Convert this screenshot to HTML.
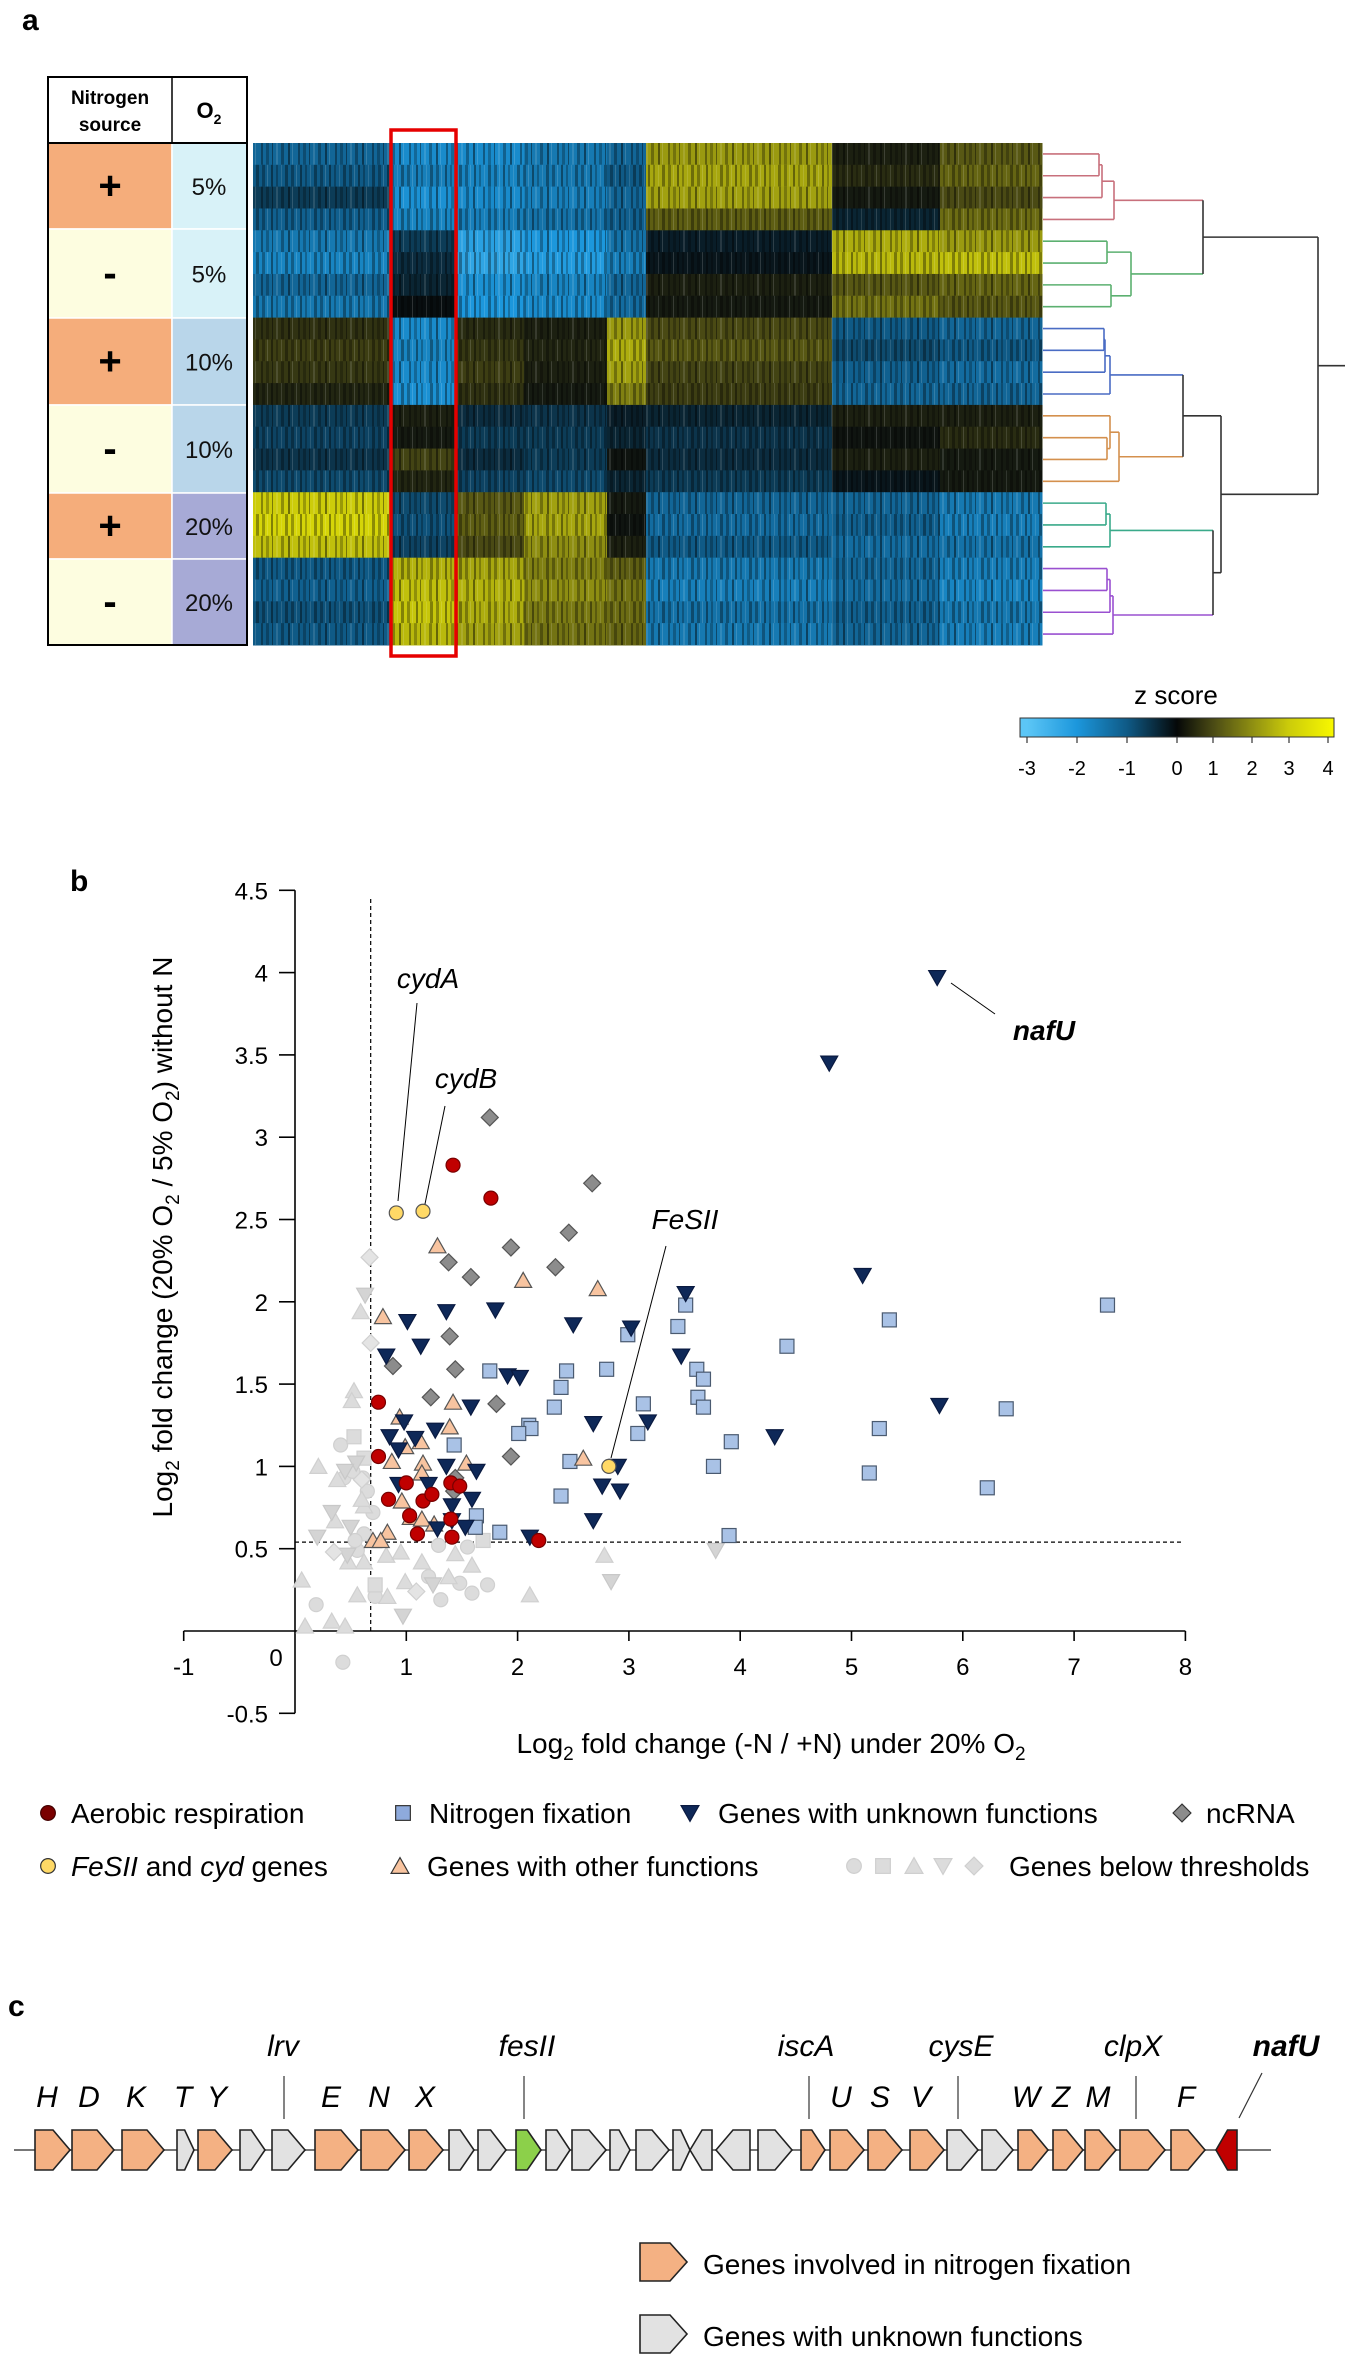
<!DOCTYPE html>
<html><head><meta charset="utf-8"><style>
html,body{margin:0;padding:0;background:#fff;}
svg{display:block;font-family:"Liberation Sans",Arial,sans-serif;}
</style></head><body>
<svg id="fig" width="1352" height="2362" viewBox="0 0 1352 2362" xmlns="http://www.w3.org/2000/svg">
<defs>
<linearGradient id="zgrad" x1="1020" x2="1334" y1="0" y2="0" gradientUnits="userSpaceOnUse">
<stop offset="0" stop-color="#5cc6f6"/><stop offset="0.022" stop-color="#5cc6f6"/>
<stop offset="0.181" stop-color="#1c97dc"/><stop offset="0.341" stop-color="#0f5a86"/>
<stop offset="0.500" stop-color="#050808"/><stop offset="0.615" stop-color="#4a4a14"/>
<stop offset="0.739" stop-color="#8e8e12"/><stop offset="0.857" stop-color="#cccc0a"/>
<stop offset="1" stop-color="#f8f800"/></linearGradient>
<pattern id="tex1" width="37" height="22" patternUnits="userSpaceOnUse">
<rect x="2" y="0" width="2" height="22" fill="#000" opacity="0.35"/><rect x="7" y="0" width="3" height="22" fill="#000" opacity="0.25"/>
<rect x="13" y="0" width="1" height="22" fill="#000" opacity="0.4"/><rect x="17" y="0" width="2" height="22" fill="#fff" opacity="0.12"/>
<rect x="22" y="0" width="3" height="22" fill="#000" opacity="0.3"/><rect x="29" y="0" width="2" height="22" fill="#000" opacity="0.45"/>
<rect x="33" y="0" width="1" height="22" fill="#fff" opacity="0.15"/></pattern>
<pattern id="tex2" width="29" height="22" patternUnits="userSpaceOnUse">
<rect x="1" y="0" width="3" height="22" fill="#000" opacity="0.3"/><rect x="6" y="0" width="1" height="22" fill="#fff" opacity="0.15"/>
<rect x="10" y="0" width="2" height="22" fill="#000" opacity="0.4"/><rect x="15" y="0" width="2" height="22" fill="#000" opacity="0.25"/>
<rect x="20" y="0" width="1" height="22" fill="#fff" opacity="0.12"/><rect x="24" y="0" width="3" height="22" fill="#000" opacity="0.35"/></pattern>
</defs>
<g id="panelA"></g>
<g id="panelB"></g>
<g id="panelC"></g>
</svg>
<script>
// ---------- Panel A data ----------
const hmGroups=["+ 5%","- 5%","+ 10%","- 10%","+ 20%","- 20%"];
const hmRowGroup=[0,0,0,0,1,1,1,1,2,2,2,2,3,3,3,3,4,4,4,5,5,5,5];
const hmBlockEdges=[253,390,457,524,607,646,832,940,1042];
const hmRow0=[-1.2,-1.8,-1.8,-1.5,-1.2,2.2,0.3,1.2];
const hmRow1=[-1.0,-1.6,-1.7,-1.5,-1.0,2.4,0.5,1.4];
const hmRow2=[-0.6,-1.9,-1.8,-1.6,-1.2,2.3,0.2,1.0];
const hmRow3=[-1.1,-1.7,-1.6,-1.4,-1.1,1.3,-0.3,1.5];
const hmRow4=[-1.5,-0.6,-2.2,-2.0,-1.4,-0.2,2.5,2.2];
const hmRow5=[-1.7,-0.4,-2.3,-2.1,-1.6,-0.1,2.7,2.8];
const hmRow6=[-1.2,-0.3,-1.9,-1.7,-1.2,0.3,1.2,1.4];
const hmRow7=[-1.5,0.0,-2.0,-1.8,-1.3,0.2,1.6,1.2];
const hmRow8=[0.6,-1.8,0.5,0.3,2.2,1.0,-1.0,-1.2];
const hmRow9=[0.8,-1.7,0.7,0.4,2.5,1.2,-0.8,-1.0];
const hmRow10=[0.7,-1.8,0.8,0.3,2.3,0.9,-1.1,-1.3];
const hmRow11=[0.4,-1.9,0.6,0.2,1.8,0.8,-1.2,-1.2];
const hmRow12=[-0.6,0.3,-0.4,-0.5,-0.2,-0.3,0.3,0.3];
const hmRow13=[-0.7,0.2,-0.6,-0.6,-0.3,-0.5,0.1,0.5];
const hmRow14=[-0.5,0.9,-0.4,-0.6,0.1,-0.4,0.3,0.2];
const hmRow15=[-0.8,0.4,-0.7,-0.8,-0.3,-0.6,-0.1,0.2];
const hmRow16=[3.0,-0.8,1.2,2.3,0.2,-1.2,-1.2,-1.5];
const hmRow17=[3.2,-0.9,1.3,2.4,0.1,-1.3,-1.1,-1.6];
const hmRow18=[2.8,-0.7,1.0,2.0,0.3,-1.0,-1.3,-1.4];
const hmRow19=[-1.0,2.6,2.4,1.8,1.3,-1.5,-1.2,-1.6];
const hmRow20=[-1.1,2.8,2.6,2.0,1.6,-1.6,-1.3,-1.7];
const hmRow21=[-0.9,2.9,2.5,1.7,1.5,-1.4,-1.1,-1.5];
const hmRow22=[-1.0,2.7,2.3,1.6,1.4,-1.5,-1.2,-1.6];
const hmRows=[hmRow0,hmRow1,hmRow2,hmRow3,hmRow4,hmRow5,hmRow6,hmRow7,hmRow8,hmRow9,hmRow10,hmRow11,hmRow12,hmRow13,hmRow14,hmRow15,hmRow16,hmRow17,hmRow18,hmRow19,hmRow20,hmRow21,hmRow22];
const zTicks=[-3,-2,-1,0,1,2,3,4];
const zTickX=[1027,1077,1127,1177,1213,1252,1289,1328];
// dendrogram merges: [childA, childB, height(px x), color]; leaves 0..22, merges numbered 23+
const dMerges=[
[0,1,1099,"#c8707c"],[23,2,1102,"#c8707c"],[24,3,1114,"#c8707c"],
[4,5,1107,"#5cb070"],[6,7,1111,"#5cb070"],[26,27,1131,"#5cb070"],
[25,28,1203,"#333"],
[8,9,1104,"#4a6cc4"],[30,10,1105,"#4a6cc4"],[31,11,1110,"#4a6cc4"],
[13,14,1107,"#d4904e"],[12,33,1110,"#d4904e"],[34,15,1119,"#d4904e"],
[32,35,1183,"#333"],
[16,17,1106,"#3aaa8a"],[37,18,1110,"#3aaa8a"],
[19,20,1107,"#9a50d0"],[39,21,1110,"#9a50d0"],[40,22,1113,"#9a50d0"],
[38,41,1213,"#333"],[36,42,1221,"#333"],[29,43,1318,"#333"]];
// ---------- Panel B data ----------
const aerX=[1.42,1.76,0.75,0.75,1.0,0.84,1.15,1.23,1.40,1.48,1.03,1.10,1.40,1.41,2.19];
const aerY=[2.83,2.63,1.39,1.06,0.90,0.80,0.79,0.83,0.90,0.88,0.70,0.59,0.68,0.57,0.55];
const cydX=[0.91,1.15,2.82];
const cydY=[2.54,2.55,1.0];
const nfX=[3.51,3.44,2.99,5.34,4.42,7.30,1.75,2.44,2.80,3.61,3.67,2.39,2.33,3.13,3.62,3.67,6.39,2.10,2.12,2.01,3.08,3.92,5.25,1.43,2.47,3.76,5.16,6.22,2.39,1.63,1.62,1.84,3.90];
const nfY=[1.98,1.85,1.80,1.89,1.73,1.98,1.58,1.58,1.59,1.59,1.53,1.48,1.36,1.38,1.42,1.36,1.35,1.25,1.23,1.20,1.20,1.15,1.23,1.13,1.03,1.0,0.96,0.87,0.82,0.70,0.63,0.60,0.58];
const unkX=[5.77,4.80,5.10,3.51,1.36,1.80,1.01,2.50,3.02,1.13,0.82,3.47,1.91,2.02,1.58,5.79,0.98,2.68,3.17,1.26,0.85,1.08,4.31,0.93,1.36,2.90,1.63,0.93,1.20,2.76,2.92,1.59,1.41,2.68,1.28,1.53,2.11,1.41];
const unkY=[3.97,3.45,2.16,2.05,1.94,1.95,1.88,1.86,1.84,1.73,1.67,1.67,1.55,1.54,1.36,1.37,1.27,1.26,1.27,1.22,1.18,1.17,1.18,1.10,1.0,1.0,0.97,0.89,0.89,0.88,0.85,0.80,0.76,0.67,0.62,0.63,0.57,0.67];
const othX=[1.28,2.05,2.72,0.79,1.42,0.94,1.39,1.13,0.99,0.87,1.15,1.54,2.59,1.14,0.96,1.04,1.14,1.25,0.70,0.83,0.77];
const othY=[2.34,2.13,2.08,1.91,1.39,1.30,1.24,1.15,1.12,1.03,1.02,1.02,1.05,0.96,0.79,0.69,0.68,0.65,0.55,0.60,0.55];
const ncX=[1.75,2.67,2.46,1.94,1.38,2.34,1.58,1.39,0.88,1.44,1.22,1.81,1.94,1.44,1.43];
const ncY=[3.12,2.72,2.42,2.33,2.24,2.21,2.15,1.79,1.61,1.59,1.42,1.38,1.06,0.93,0.85];
const bCircX=[0.41,0.43,0.19,1.31,1.59,1.73,0.72,0.56,0.62,0.70,0.61,0.65,0.44,1.20,1.48,1.55,1.29,0.54,0.52];
const bCircY=[1.13,-0.19,0.16,0.19,0.23,0.28,0.21,0.49,0.59,0.72,0.93,0.85,0.93,0.33,0.29,0.51,0.52,0.55,0.97];
const bSqX=[0.53,0.72,1.69,0.62];
const bSqY=[1.18,0.28,0.55,1.05];
const bUpX=[0.59,0.53,0.51,2.78,2.11,0.06,0.09,0.33,0.45,0.83,0.56,0.21,0.36,0.62,0.82,0.95,1.14,0.99,1.38,1.59,1.44,0.62,0.48,0.38,0.60];
const bUpY=[1.94,1.46,1.40,0.46,0.22,0.31,0.03,0.06,0.03,0.21,0.22,1.0,0.67,0.76,0.46,0.48,0.42,0.30,0.33,0.40,0.47,0.42,0.42,0.92,0.80];
const bDnX=[0.63,2.84,3.78,0.97,1.24,0.33,0.50,0.20,0.47,0.55,0.45];
const bDnY=[2.04,0.30,0.49,0.09,0.28,0.72,0.63,0.57,0.46,1.02,0.97];
const bDiaX=[0.67,0.68,1.09,0.35,0.60];
const bDiaY=[2.27,1.75,0.24,0.48,0.92];
const xTicks=[-1,1,2,3,4,5,6,7,8];
const yTicks=[-0.5,0.5,1,1.5,2,2.5,3,3.5,4,4.5];
const threshX=0.68, threshY=0.54;
// ---------- Panel C data ----------
const geneStart=[35,72,122,177,198,240,272,315,361,409,449,478,516,546,572,610,636,673,690,716,758,801,830,868,910,947,982,1018,1053,1085,1120,1171,1216];
const geneEnd=[70,114,164,194,232,265,305,358,405,443,474,506,541,570,606,630,669,690,712,750,792,825,864,902,944,978,1013,1048,1083,1116,1165,1205,1237];
const geneType=["n","n","n","u","n","u","u","n","n","n","u","u","g","u","u","u","u","u","u","u","u","n","n","n","n","u","u","n","n","n","n","n","r"];
const geneDir=[1,1,1,1,1,1,1,1,1,1,1,1,1,1,1,1,1,1,-1,-1,1,1,1,1,1,1,1,1,1,1,1,1,-1];

const NS="http://www.w3.org/2000/svg";
function mk(tag,attrs,parent){const e=document.createElementNS(NS,tag);for(const k in attrs)e.setAttribute(k,attrs[k]);parent.appendChild(e);return e;}
function txt(s,attrs,parent){const e=mk("text",attrs,parent);e.textContent=s;return e;}
const A=document.getElementById("panelA"),B=document.getElementById("panelB"),C=document.getElementById("panelC");

// ===== Panel A =====
let t=txt("a",{x:22,y:30,"font-size":30,"font-weight":"bold"},A);


const zStops=[[-3,[92,198,246]],[-2,[28,151,220]],[-1,[15,90,134]],[0,[8,14,16]],[1,[74,74,20]],[2,[142,142,18]],[3,[204,204,10]],[4,[248,248,0]]];
function zcol(v){v=Math.max(-3,Math.min(4,v));for(let i=0;i<zStops.length-1;i++){const a=zStops[i],b=zStops[i+1];if(v<=b[0]){const f=(v-a[0])/(b[0]-a[0]);const c=a[1].map((x,j)=>Math.round(x+(b[1][j]-x)*f));return "rgb("+c.join(",")+")";}}return "rgb(248,248,0)";}
// table
const rowB=[143,229,318,405,493,559,645];
const nCol=["#f5ad7b","#fdfde0"];
const oCol=["#d8f2f8","#d8f2f8","#b9d6ea","#b9d6ea","#a7aad6","#a7aad6"];
const signs=["+","-","+","-","+","-"];
const oTxt=["5%","5%","10%","10%","20%","20%"];
const tbl=mk("g",{},A);


mk("rect",{x:48,y:77,width:199,height:66,fill:"#fff"},tbl);
for(let i=0;i<6;i++){
  const y0=rowB[i],h=rowB[i+1]-rowB[i];
  const c1=mk("rect",{x:48,y:y0,width:124,height:h,fill:nCol[i%2],stroke:"#fff","stroke-width":1.5},tbl);
  
  
  const c2=mk("rect",{x:172,y:y0,width:75,height:h,fill:oCol[i],stroke:"#fff","stroke-width":1.5},tbl);
  
  
  const s=txt(signs[i],{x:110,y:y0+h/2+13,"font-size":signs[i]=="+"?40:40,"font-weight":"bold","text-anchor":"middle"},tbl);
  
  
  const o=txt(oTxt[i],{x:209,y:y0+h/2+9,"font-size":24,"text-anchor":"middle",fill:"#111"},tbl);
  
  
}
mk("rect",{x:48,y:77,width:199,height:568,fill:"none",stroke:"#000","stroke-width":2},tbl);
mk("line",{x1:48,y1:143,x2:247,y2:143,stroke:"#000","stroke-width":2},tbl);
mk("line",{x1:172,y1:77,x2:172,y2:143,stroke:"#000","stroke-width":1.5},tbl);
t=txt("Nitrogen",{x:110,y:104,"font-size":19,"font-weight":"bold","text-anchor":"middle"},tbl);


txt("source",{x:110,y:131,"font-size":19,"font-weight":"bold","text-anchor":"middle"},tbl);
t=mk("text",{x:209,y:118,"font-size":22,"font-weight":"bold","text-anchor":"middle"},tbl);
t.innerHTML='O<tspan font-size="14" dy="6">2</tspan>';


// heatmap
const hm=mk("g",{},A);


const hmTop=143,hmBot=645,rowH=(hmBot-hmTop)/hmRows.length;
hmRows.forEach((vals,r)=>{
  vals.forEach((v,b)=>{
    const x0=hmBlockEdges[b],x1=hmBlockEdges[b+1];
    const c=mk("rect",{x:x0,y:hmTop+r*rowH,width:x1-x0+0.5,height:rowH+0.5,fill:zcol(v)},hm);
    
    
  });
  mk("rect",{x:253,y:hmTop+r*rowH,width:789,height:rowH,fill:r%2?"url(#tex2)":"url(#tex1)"},hm);
});
const rb=mk("rect",{x:391,y:130,width:65,height:526,fill:"none",stroke:"#e60000","stroke-width":3.5},A);


// dendrogram
const dg=mk("g",{fill:"none","stroke-width":1.6},A);


const nodeY=[],nodeX=[];
for(let i=0;i<23;i++){nodeY.push(hmTop+(i+0.5)*rowH);nodeX.push(1043);}
const nodeCol=[];for(let i=0;i<23;i++)nodeCol.push(null);
dMerges.forEach(m=>{
  const [a,b,h,col]=m;
  const ca=nodeCol[a]&&nodeCol[a]!="#333"?nodeCol[a]:col, cb=nodeCol[b]&&nodeCol[b]!="#333"?nodeCol[b]:col;
  const la=mk("line",{x1:nodeX[a],y1:nodeY[a],x2:h,y2:nodeY[a],stroke:col=="#333"?ca:col},dg);
  
  
  const lb=mk("line",{x1:nodeX[b],y1:nodeY[b],x2:h,y2:nodeY[b],stroke:col=="#333"?cb:col},dg);
  
  
  const lv=mk("line",{x1:h,y1:nodeY[a],x2:h,y2:nodeY[b],stroke:col},dg);
  
  
  nodeX.push(h);nodeY.push((nodeY[a]+nodeY[b])/2);nodeCol.push(col);
});
const rootI=nodeX.length-1;
mk("line",{x1:nodeX[rootI],y1:nodeY[rootI],x2:1345,y2:nodeY[rootI],stroke:"#333"},dg);
// colorbar
const cb=mk("g",{},A);


t=txt("z score",{x:1176,y:704,"font-size":26,"text-anchor":"middle"},cb);


mk("rect",{x:1020,y:718,width:314,height:19,fill:"url(#zgrad)",stroke:"#333","stroke-width":1},cb);
zTicks.forEach((v,i)=>{
  mk("line",{x1:zTickX[i],y1:737,x2:zTickX[i],y2:743,stroke:"#333","stroke-width":1.2},cb);
  const l=txt(String(v),{x:zTickX[i],y:775,"font-size":20,"text-anchor":"middle"},cb);
  
  
});

// ===== Panel B =====
t=txt("b",{x:70,y:891,"font-size":30,"font-weight":"bold"},B);


const X0=295,XU=111.3,Y0=1631,YU=164.6;
const sx=v=>X0+v*XU, sy=v=>Y0-v*YU;
const ax=mk("g",{stroke:"#000","stroke-width":1.6},B);


mk("line",{x1:sx(-1),y1:Y0,x2:sx(8),y2:Y0},ax);
mk("line",{x1:X0,y1:sy(-0.5),x2:X0,y2:sy(4.5)},ax);
xTicks.forEach(v=>{
  mk("line",{x1:sx(v),y1:Y0,x2:sx(v),y2:Y0+10},ax);
  const l=txt(String(v),{x:sx(v),y:Y0+44,"font-size":24,"text-anchor":"middle",stroke:"none",fill:"#000"},B);
  
  
});
yTicks.forEach(v=>{
  mk("line",{x1:X0-16,y1:sy(v),x2:X0,y2:sy(v)},ax);
  const l=txt(String(v),{x:268,y:sy(v)+9,"font-size":24,"text-anchor":"end",stroke:"none",fill:"#000"},B);
  
  
});
t=txt("0",{x:276,y:1666,"font-size":24,"text-anchor":"middle"},B);


const dl=mk("line",{x1:sx(threshX),y1:899,x2:sx(threshX),y2:Y0,stroke:"#000","stroke-width":1.2,"stroke-dasharray":"4,3"},B);


const dh=mk("line",{x1:X0,y1:sy(threshY),x2:1183,y2:sy(threshY),stroke:"#000","stroke-width":1.2,"stroke-dasharray":"4,3"},B);


t=mk("text",{x:771,y:1753,"font-size":28,"text-anchor":"middle"},B);
t.innerHTML='Log<tspan font-size="19" dy="7">2</tspan><tspan dy="-7"> fold change (-N / +N) under 20% O</tspan><tspan font-size="19" dy="7">2</tspan>';


t=mk("text",{x:0,y:0,"font-size":28,"text-anchor":"middle",transform:"translate(172,1237) rotate(-90)"},B);
t.innerHTML='Log<tspan font-size="19" dy="7">2</tspan><tspan dy="-7"> fold change (20% O</tspan><tspan font-size="19" dy="7">2</tspan><tspan dy="-7"> / 5% O</tspan><tspan font-size="19" dy="7">2</tspan><tspan dy="-7">) without N</tspan>';



function marker(shape,cx,cy,fill,stroke,parent,size){
  const s=size||1;let e;
  if(shape=="circle")e=mk("circle",{cx:cx,cy:cy,r:7*s,fill:fill,stroke:stroke,"stroke-width":1.2},parent);
  else if(shape=="square")e=mk("rect",{x:cx-7*s,y:cy-7*s,width:14*s,height:14*s,fill:fill,stroke:stroke,"stroke-width":1.2},parent);
  else if(shape=="up")e=mk("polygon",{points:`${cx-8.5*s},${cy+7*s} ${cx+8.5*s},${cy+7*s} ${cx},${cy-8*s}`,fill:fill,stroke:stroke,"stroke-width":1.2},parent);
  else if(shape=="down")e=mk("polygon",{points:`${cx-8.5*s},${cy-7*s} ${cx+8.5*s},${cy-7*s} ${cx},${cy+8*s}`,fill:fill,stroke:stroke,"stroke-width":1.2},parent);
  else e=mk("polygon",{points:`${cx},${cy-8.5*s} ${cx+8.5*s},${cy} ${cx},${cy+8.5*s} ${cx-8.5*s},${cy}`,fill:fill,stroke:stroke,"stroke-width":1.2},parent);
  return e;
}
const series=[
 [bCircX,bCircY,"circle","#dcdcdc","#d0d0d0","below-threshold-circle"],
 [bSqX,bSqY,"square","#dcdcdc","#d0d0d0","below-threshold-square"],
 [bUpX,bUpY,"up","#dcdcdc","#d0d0d0","below-threshold-up"],
 [bDnX,bDnY,"down","#d4d4d4","#c8c8c8","below-threshold-down"],
 [bDiaX,bDiaY,"diamond","#e4e4e4","#d0d0d0","below-threshold-diamond"],
 [nfX,nfY,"square","#a9c2e6","#4a5a70","nitrogen-fixation-point"],
 [ncX,ncY,"diamond","#8c8c8c","#555","ncrna-point"],
 [othX,othY,"up","#f8c4a0","#555","other-function-point"],
 [unkX,unkY,"down","#0e2858","#0a1a40","unknown-function-point"],
 [aerX,aerY,"circle","#c00000","#700","aerobic-point"],
 [cydX,cydY,"circle","#ffd966","#555","fesii-cyd-point"]];
series.forEach(s=>{
  const g=mk("g",{},B);
  
  
  s[0].forEach((xv,i)=>{
    const e=marker(s[2],sx(xv),sy(s[1][i]),s[3],s[4],g);
    
    
  });
});
// annotations
const ann=[["cydA",428,988,417,1003,398,1201,false],["cydB",466,1088,445,1106,425,1204,false],["FeSII",685,1229,666,1246,611,1458,false],["nafU",1044,1040,951,983,995,1014,true]];
ann.forEach(a=>{
  const l=txt(a[0],{x:a[1],y:a[2],"font-size":28,"font-style":"italic","font-weight":a[7]?"bold":"normal","text-anchor":"middle"},B);
  
  
  const ln=mk("line",{x1:a[3],y1:a[4],x2:a[5],y2:a[6],stroke:"#000","stroke-width":1},B);
  
  
});
// legend
const lg=mk("g",{},B);


const legItems=[["circle",48,1813,"#7a0000","#400",71,"Aerobic respiration"],["square",403,1813,"#8eaadc","#333",429,"Nitrogen fixation"],["down",690,1813,"#0e2858","#0a1a40",718,"Genes with unknown functions"],["diamond",1182,1813,"#8c8c8c","#333",1206,"ncRNA"],["circle",48,1866,"#ffd966","#333",71,null],["up",400,1866,"#f8c4a0","#333",427,"Genes with other functions"]];
legItems.forEach(it=>{
  const m=marker(it[0],it[1],it[2],it[3],it[4],lg,1.05);
  
  
  let l;
  if(it[6])l=txt(it[6],{x:it[5],y:it[2]+10,"font-size":28},lg);
  else{l=mk("text",{x:it[5],y:it[2]+10,"font-size":28},lg);l.innerHTML='<tspan font-style="italic">FeSII</tspan> and <tspan font-style="italic">cyd</tspan> genes';}
  
  
});
[["circle",854],["square",883],["up",914],["down",943],["diamond",974]].forEach(g=>{
  const m=marker(g[0],g[1],1866,"#dcdcdc","#cfcfcf",lg,1.05);
  
  
});
t=txt("Genes below thresholds",{x:1009,y:1876,"font-size":28},lg);



// ===== Panel C =====
t=txt("c",{x:8,y:2016,"font-size":30,"font-weight":"bold"},C);


const bl=mk("line",{x1:14,y1:2150,x2:1271,y2:2150,stroke:"#777","stroke-width":2},C);


const gFill={n:"#f4b183",u:"#e2e2e2",g:"#8cd04a",r:"#c00000"};
function arrowPts(x1,x2,dir,y0,y1){
  const w=x2-x1,tip=Math.min(17,w*0.55),ym=(y0+y1)/2;
  if(dir>0)return `${x1},${y0} ${x2-tip},${y0} ${x2},${ym} ${x2-tip},${y1} ${x1},${y1}`;
  return `${x2},${y0} ${x1+tip},${y0} ${x1},${ym} ${x1+tip},${y1} ${x2},${y1}`;
}
geneStart.forEach((s,i)=>{
  const p=mk("polygon",{points:arrowPts(s,geneEnd[i],geneDir[i],2130,2170),fill:gFill[geneType[i]],stroke:"#222","stroke-width":1.6},C);
  
  
});
const letters=[["H",47],["D",89],["K",136],["T",183],["Y",217],["E",331],["N",379],["X",425],["U",841],["S",880],["V",921],["W",1026],["Z",1061],["M",1098],["F",1186]];
letters.forEach(l=>{
  const e=txt(l[0],{x:l[1],y:2107,"font-size":30,"font-style":"italic","text-anchor":"middle"},C);
  
  
});
const uppers=[["lrv",283,284],["fesII",527,524],["iscA",806,809],["cysE",961,958],["clpX",1133,1136]];
uppers.forEach(u=>{
  const e=txt(u[0],{x:u[1],y:2056,"font-size":30,"font-style":"italic","text-anchor":"middle"},C);
  
  
  const ln=mk("line",{x1:u[2],y1:2076,x2:u[2],y2:2119,stroke:"#333","stroke-width":1.2},C);
  
  
});
t=txt("nafU",{x:1286,y:2056,"font-size":30,"font-style":"italic","font-weight":"bold","text-anchor":"middle"},C);


mk("line",{x1:1262,y1:2073,x2:1239,y2:2118,stroke:"#333","stroke-width":1.2},C);
const cl=mk("g",{},C);


let m=mk("polygon",{points:arrowPts(640,687,1,2243,2281),fill:"#f4b183",stroke:"#222","stroke-width":1.6},cl);


m=mk("polygon",{points:arrowPts(640,687,1,2315,2353),fill:"#e2e2e2",stroke:"#222","stroke-width":1.6},cl);


t=txt("Genes involved in nitrogen fixation",{x:703,y:2274,"font-size":28},cl);


t=txt("Genes with unknown functions",{x:703,y:2346,"font-size":28},cl);


</script>
</body></html>
